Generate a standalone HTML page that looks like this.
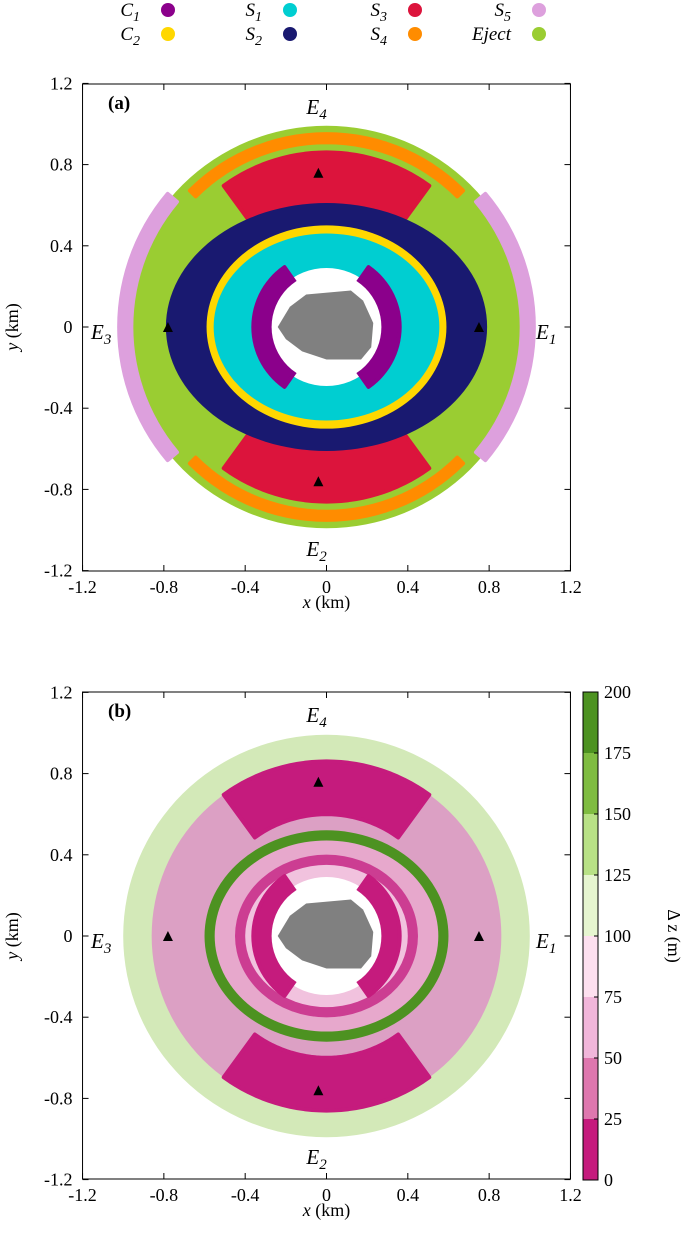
<!DOCTYPE html>
<html><head><meta charset="utf-8"><style>
body{margin:0;background:#fff;}
text{font-family:"Liberation Serif",serif;}
</style></head><body>
<svg width="685" height="1239" viewBox="0 0 685 1239" xmlns="http://www.w3.org/2000/svg" font-family="Liberation Serif, serif">
<g id="legend"></g>
<g id="pa"></g>
<g id="pb"></g>
</svg>
<script>
// ---- data ----
const legendLabels=["C1","S1","S3","S5","C2","S2","S4","Eject"];
const legendColors=["#8b008b","#00ced1","#dc143c","#dda0dd","#ffd700","#191970","#ff8c00","#9acd32"];
const ticks=[-1.2,-0.8,-0.4,0,0.4,0.8,1.2];
const tickLabels=["-1.2","-0.8","-0.4","0","0.4","0.8","1.2"];
// equilibrium points (km)
const eqX=[0.75,-0.04,-0.78,-0.04];
const eqY=[0,-0.76,0,0.76];
// panel a regions: [rx, ry] ellipses (km)
const ejectR=[1.0,0.99];
const s2R=[0.79,0.61];
const c2R=[0.59,0.5];
const s1R=[0.555,0.46];
const holeR=[0.3,0.29];
// crescents: inner r, outer r, start angle, end angle (deg)
const s3Cres=[[0.6,0.86,54,126],[0.6,0.86,234,306]];
const s5Arc=[[0.96,1.02,-40,40],[0.96,1.02,140,220]];
const s4Arc=[[0.91,0.95,45,135],[0.91,0.95,225,315]];
const c1Cres=[[0.26,0.36,-55,55],[0.26,0.36,125,235]];
// asteroid outline (km)
const astX=[-0.24,-0.18,-0.1,0.12,0.18,0.23,0.22,0.17,0.0,-0.12,-0.2];
const astY=[0.0,0.1,0.16,0.18,0.13,0.02,-0.1,-0.16,-0.16,-0.12,-0.06];
// panel b bands (rx,ry,color)
const bBandR=[[1.0,0.99],[0.86,0.86],[0.6,0.52],[0.55,0.47],[0.45,0.4],[0.4,0.35],[0.3,0.29]];
const bBandC=["#d3e9b8","#dca0c4","#4d9221","#e7a8cc","#cc3d92","#f1c2de","#ffffff"];
const cbValues=[0,25,50,75,100,125,150,175,200];
const cbColors=["#c51b7d","#de77ae","#f1b6da","#fde0ef","#e6f5d0","#b8e186","#7fbc41","#4d9221"];

const NS="http://www.w3.org/2000/svg";
function mk(parent,tag,attrs,name){const e=document.createElementNS(NS,tag);for(const k in attrs)e.setAttribute(k,attrs[k]);
if(tag==="text")e.setAttribute("font-family","Liberation Serif, serif");


parent.appendChild(e);return e;}
const S=203.3;
const X=v=>326.5+v*S;

function ell(g,r,cy,fill,name){return mk(g,"ellipse",{cx:X(0),cy:cy,rx:r[0]*S,ry:r[1]*S,fill:fill},name);}
function sector(g,c,Y,fill,name){const [r0,r1,a0,a1]=c;const p=[];const n=30;
for(let i=0;i<=n;i++){const a=(a0+(a1-a0)*i/n)*Math.PI/180;p.push(X(r1*Math.cos(a))+","+Y(r1*Math.sin(a)));}
for(let i=n;i>=0;i--){const a=(a0+(a1-a0)*i/n)*Math.PI/180;p.push(X(r0*Math.cos(a))+","+Y(r0*Math.sin(a)));}
return mk(g,"polygon",{points:p.join(" "),fill:fill,"stroke":fill,"stroke-width":4,"stroke-linejoin":"round"},name);}

function axes(g,top,Y,label){
 const L=X(-1.2),R=X(1.2),T=top,B=top+487;
 mk(g,"rect",{x:L,y:T,width:R-L,height:B-T,fill:"none",stroke:"#000","stroke-width":1},"plot-frame");
 ticks.forEach((t,i)=>{
  mk(g,"line",{x1:X(t),x2:X(t),y1:B,y2:B-6,stroke:"#000"},"x-tick");
  mk(g,"line",{x1:X(t),x2:X(t),y1:T,y2:T+6,stroke:"#000"},"x-tick");
  mk(g,"line",{x1:L,x2:L+6,y1:Y(t),y2:Y(t),stroke:"#000"},"y-tick");
  mk(g,"line",{x1:R,x2:R-6,y1:Y(t),y2:Y(t),stroke:"#000"},"y-tick");
  const tx=mk(g,"text",{x:X(t),y:B+22,"font-size":18,"text-anchor":"middle"},"x-tick-label");tx.textContent=tickLabels[i];
  const ty=mk(g,"text",{x:L-10,y:Y(t)+6,"font-size":18,"text-anchor":"end"},"y-tick-label");ty.textContent=tickLabels[i];
 });
 const xl=mk(g,"text",{x:X(0),y:B+37,"font-size":18,"text-anchor":"middle"},"x-axis-title");xl.innerHTML='<tspan font-style="italic">x</tspan> (km)';
 const yl=mk(g,"text",{x:18,y:Y(0),"font-size":18,"text-anchor":"middle",transform:`rotate(-90 18 ${Y(0)})`},"y-axis-title");yl.innerHTML='<tspan font-style="italic">y</tspan> (km)';
 const pl=mk(g,"text",{x:108,y:top+25,"font-size":19,"font-weight":"bold"},"panel-label");pl.textContent=label;
 const lab=[["E","4",X(-0.04)-12,top+30],["E","2",X(-0.04)-12,top+472],["E","3",91,Y(0)+12],["E","1",536,Y(0)+12]];
 lab.forEach(l=>{const t=mk(g,"text",{x:l[2],y:l[3],"font-size":21,"font-style":"italic"},"equilibrium-label");t.innerHTML=l[0]+'<tspan font-size="15" dy="5">'+l[1]+'</tspan>';});
 eqX.forEach((ex,i)=>{const cx=X(ex),cy=Y(eqY[i]);mk(g,"polygon",{points:`${cx-5},${cy+5} ${cx+5},${cy+5} ${cx},${cy-5}`,fill:"#000"},"equilibrium-point");});
}
function asteroid(g,Y){mk(g,"polygon",{points:astX.map((v,i)=>X(v)+","+Y(astY[i])).join(" "),fill:"#808080"},"asteroid");}

// legend
const lg=document.getElementById("legend");
const lx=[168,290,415,539];
legendLabels.forEach((l,i)=>{const col=i%4,row=Math.floor(i/4);const y=row?34:10;
 mk(lg,"circle",{cx:lx[col],cy:y,r:7,fill:legendColors[i]},"legend-marker");
 const t=mk(lg,"text",{x:lx[col]-28,y:y+6,"font-size":19,"font-style":"italic","text-anchor":"end"},"legend-label");
 t.innerHTML=l.length==2?l[0]+'<tspan font-size="14" dy="5">'+l[1]+'</tspan>':l;});

// panel a
const ga=document.getElementById("pa");const Ya=v=>327-v*203;
ell(ga,ejectR,Ya(0),legendColors[7],"eject-region");
s5Arc.forEach(c=>sector(ga,c,Ya,legendColors[3],"s5-region"));
s4Arc.forEach(c=>sector(ga,c,Ya,legendColors[6],"s4-region"));
s3Cres.forEach(c=>sector(ga,c,Ya,legendColors[2],"s3-region"));
ell(ga,s2R,Ya(0),legendColors[5],"s2-region");
ell(ga,c2R,Ya(0),legendColors[4],"c2-region");
ell(ga,s1R,Ya(0),legendColors[1],"s1-region");
ell(ga,holeR,Ya(0),"#fff","empty-region");
c1Cres.forEach(c=>sector(ga,c,Ya,legendColors[0],"c1-region"));
ell(ga,[0.27,0.27],Ya(0),"#fff","empty-core");
asteroid(ga,Ya);
axes(ga,84,Ya,"(a)");

// panel b
const gb=document.getElementById("pb");const Yb=v=>936-v*203;
bBandR.forEach((r,i)=>ell(gb,r,Yb(0),bBandC[i],"dz-band"));
s3Cres.forEach(c=>sector(gb,c,Yb,"#c51b7d","dz-crescent"));
c1Cres.forEach(c=>sector(gb,c,Yb,"#c51b7d","dz-inner-crescent"));
ell(gb,[0.27,0.27],Yb(0),"#fff","empty-core");
asteroid(gb,Yb);
axes(gb,692,Yb,"(b)");
// colorbar
const cbT=692,cbB=1180,cbX=583,cbW=15;const CY=v=>cbB-(v-cbValues[0])/(cbValues[cbValues.length-1]-cbValues[0])*(cbB-cbT);
cbColors.forEach((c,i)=>mk(gb,"rect",{x:cbX,y:CY(cbValues[i+1]),width:cbW,height:CY(cbValues[i])-CY(cbValues[i+1]),fill:c},"colorbar-bin"));
mk(gb,"rect",{x:cbX,y:cbT,width:cbW,height:cbB-cbT,fill:"none",stroke:"#000"},"colorbar-frame");
cbValues.forEach(v=>{mk(gb,"line",{x1:cbX+cbW-4,x2:cbX+cbW,y1:CY(v),y2:CY(v),stroke:"#000"},"colorbar-tick");
 const t=mk(gb,"text",{x:cbX+cbW+6,y:CY(v)+6,"font-size":18},"colorbar-tick-label");t.textContent=v;});
const ct=mk(gb,"text",{x:668,y:936,"font-size":18,"text-anchor":"middle",transform:"rotate(90 668 936)"},"colorbar-title");ct.textContent="Δ z (m)";
</script>
</body></html>
